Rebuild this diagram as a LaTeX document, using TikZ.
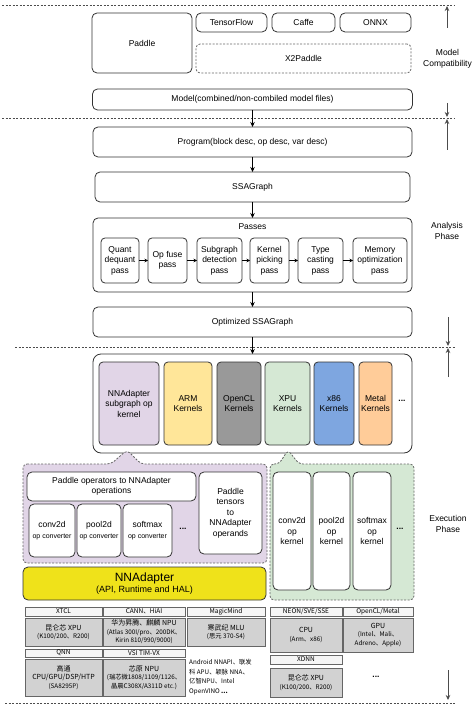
\documentclass[tikz,border=0pt]{standalone}
\usepackage{fontspec}
\setmainfont{Liberation Sans}
\newfontfamily\cjk{Noto Sans CJK SC}
\usetikzlibrary{arrows.meta}
\definecolor{lilac}{HTML}{E1D5E7}
\definecolor{mint}{HTML}{D5E8D4}
\definecolor{butter}{HTML}{FFE699}
\definecolor{slate}{HTML}{999999}
\definecolor{sky}{HTML}{7EA6E0}
\definecolor{peach}{HTML}{FFCC99}
\definecolor{lemon}{HTML}{EFE21A}
\definecolor{hdrgray}{HTML}{F5F5F5}
\definecolor{cellgray}{HTML}{D2D2D2}
\newcommand{\opc}{\fontsize{7}{9}\selectfont op converter}
\newcommand{\mainln}[1]{{\fontsize{7}{9.5}\selectfont #1}}

\begin{document}
\begin{tikzpicture}[x=1pt, y=-1pt, font=\fontsize{8.5}{10.5}\selectfont,
  wh/.style 2 args={minimum width=#1pt, minimum height=#2pt},
  box/.style={draw=black!80, line width=0.8pt, rounded corners=5pt, fill=white,
    align=center, inner sep=1pt, outer sep=0pt},
  pbox/.style={box, rounded corners=4pt},
  region/.style={draw=black!60, line width=0.8pt, dash pattern=on 2pt off 1.5pt, rounded corners=4pt},
  sep/.style={draw=black!70, line width=0.8pt, dash pattern=on 2pt off 1.5pt},
  flow/.style={-{Stealth[length=5pt,width=4.5pt]}, line width=0.8pt},
  tiny/.style={-{Stealth[length=3.5pt,width=3.5pt]}, line width=0.7pt},
  hdr/.style={draw=black!60, line width=0.7pt, fill=hdrgray, inner sep=0.5pt, align=center,
    font=\cjk\fontsize{6.5}{8}\selectfont},
  cell/.style={hdr, fill=cellgray, font=\cjk\fontsize{6.3}{8.5}\selectfont}]
  \useasboundingbox (0,0) rectangle (474,708);

  \draw[sep] (2,5) -- (455,5);
  \draw[sep] (2,118) -- (455,118);
  \draw[sep] (15,347) -- (455,347);
  \draw[sep] (5,703) -- (455,703);

  \node[box, wh={100}{60}] (paddle) at (142,43) {Paddle};
  \node[box, wh={71}{19}] (tf) at (231.5,22.5) {TensorFlow};
  \node[box, wh={63}{19}] (caffe) at (303.5,22.5) {Caffe};
  \node[box, wh={71}{19}] (onnx) at (375.5,22.5) {ONNX};
  \node[box, region, fill=white, wh={215}{29}] (x2p) at (303.5,58.5) {X2Paddle};
  \node[box, wh={320}{21}] (model) at (252.5,99.5) {Model(combined/non-combiled model files)};
  \node[box, wh={319}{30}] (prog) at (252.5,142) {Program(block desc, op desc, var desc)};
  \node[box, wh={315}{30}] (ssa) at (252.5,187) {SSAGraph};
  \node[box, wh={319}{74}] (passes) at (252.5,255) {};
  \node (passlbl) at (252.5,227) {Passes};
  \node[pbox, wh={38}{45}] (quant) at (120,260.5) {Quant\\dequant\\pass};
  \node[pbox, wh={39}{45}] (fuse) at (167.5,260.5) {Op fuse\\pass};
  \node[pbox, wh={45}{45}] (subg) at (219.5,260.5) {Subgraph\\detection\\pass};
  \node[pbox, wh={39}{45}] (pick) at (269.5,260.5) {Kernel\\picking\\pass};
  \node[pbox, wh={45}{45}] (cast) at (320.5,260.5) {Type\\casting\\pass};
  \node[pbox, wh={54}{45}] (mem) at (380,260.5) {Memory\\optimization\\pass};
  \node[box, wh={319}{30}] (opt) at (252.5,322) {Optimized SSAGraph};

  \draw[flow] (model) -- (prog);
  \draw[flow] (prog) -- (ssa);
  \draw[flow] (ssa) -- (passes);
  \draw[flow] (passes) -- (opt);
  \draw[tiny] (quant) -- (fuse);
  \draw[tiny] (fuse) -- (subg);
  \draw[tiny] (subg) -- (pick);
  \draw[tiny] (pick) -- (cast);
  \draw[tiny] (cast) -- (mem);

  \node[box, rounded corners=8pt, wh={319}{99}] (kernels) at (252.5,403.5) {};
  \node[pbox, fill=lilac, wh={60}{83}] (nnsub) at (129,403.5) {NNAdapter\\subgraph op\\kernel};
  \node[pbox, fill=butter, wh={48}{83}] (arm) at (188,403.5) {ARM\\Kernels};
  \node[pbox, fill=slate, wh={44}{83}] (ocl) at (239,403.5) {OpenCL\\Kernels};
  \node[pbox, fill=mint, wh={45}{83}] (xpu) at (287.5,403.5) {XPU\\Kernels};
  \node[pbox, fill=sky, wh={40}{83}] (x86) at (334,403.5) {x86\\Kernels};
  \node[pbox, fill=peach, wh={33}{83}] (metal) at (375.5,403.5) {Metal\\Kernels};
  \node (kdots) at (402,401) {\textbf{...}};
  \draw[flow] (opt) -- (kernels);

  \draw[region, fill=lilac] (23,464) -- (111,464) -- (127,450) -- (141,464) -- (267,464)
    -- (267,563) -- (23,563) -- cycle;
  \draw[region, fill=mint] (270,464) -- (279,464) -- (288,450) -- (299,464) -- (414,464)
    -- (414,600) -- (270,600) -- cycle;

  \node[box, wh={169}{29}] (pops) at (111.5,486.5) {Paddle operators to NNAdapter\\operations};
  \node[box, wh={46}{53}] (cconv) at (52,530.5) {conv2d\\\opc};
  \node[box, wh={44}{53}] (cpool) at (99,530.5) {pool2d\\\opc};
  \node[box, wh={49}{53}] (csoft) at (147.5,530.5) {softmax\\\opc};
  \node (cdots) at (183,529) {\textbf{...}};
  \node[box, wh={63}{82}] (ptens) at (230.5,513) {Paddle\\tensors\\to\\NNAdapter\\operands};

  \node[box, wh={38}{118}] (kconv) at (292,531) {conv2d\\op\\kernel};
  \node[box, wh={37}{118}] (kpool) at (331.5,531) {pool2d\\op\\kernel};
  \node[box, wh={38}{118}] (ksoft) at (372,531) {softmax\\op\\kernel};
  \node (gdots) at (400,529) {\textbf{...}};

  \node[box, fill=lemon, wh={243}{33}] (nna) at (144.5,583.5)
    {{\fontsize{12}{15}\selectfont NNAdapter}\\{\fontsize{9}{11}\selectfont (API, Runtime and HAL)}};

  \node[hdr, wh={77}{9}] (xtcl) at (63.5,611.5) {XTCL};
  \node[cell, wh={77}{28}] (kunlun) at (63.5,632) {\mainln{昆仑芯 XPU}\\(K100/200、R200)};
  \node[hdr, wh={82}{9}] (cann) at (144,611.5) {CANN、HiAI};
  \node[cell, wh={82}{28}] (ascend) at (144,632) {\mainln{华为昇腾、麒麟 NPU}\\(Atlas 300I/pro、200DK、\\Kirin 810/990/9000)};
  \node[hdr, wh={78}{9}] (magic) at (226,611.5) {MagicMind};
  \node[cell, wh={78}{28}] (mlu) at (226,632) {\mainln{寒武纪 MLU}\\(思元 370-S4)};
  \node[hdr, wh={72}{9}] (neon) at (306,611.5) {NEON/SVE/SSE};
  \node[cell, wh={72}{34}] (cpu) at (306,635) {\mainln{CPU}\\(Arm、x86)};
  \node[hdr, wh={70}{9}] (oclm) at (378,611.5) {OpenCL/Metal};
  \node[cell, wh={70}{34}] (gpu) at (378,635) {\mainln{GPU}\\(Intel、Mali、\\Adreno、Apple)};
  \node[hdr, wh={77}{8}] (qnn) at (63.5,653) {QNN};
  \node[cell, wh={77}{37}] (qcom) at (63.5,677.5) {\mainln{高通}\\\mainln{CPU/GPU/DSP/HTP}\\(SA8295P)};
  \node[hdr, wh={82}{8}] (vsi) at (144,653) {VSI TIM-VX};
  \node[cell, wh={82}{37}] (vnpu) at (144,677.5) {\mainln{芯原 NPU}\\(瑞芯微1808/1109/1126、\\晶晨C308X/A311D etc.)};
  \node[hdr, wh={72}{9}] (xdnn) at (306,659.5) {XDNN};
  \node[cell, wh={72}{29}] (kunlun2) at (306,682.5) {\mainln{昆仑芯 XPU}\\(K100/200、R200)};
  \node[anchor=west, align=left, inner sep=0pt, font=\cjk\fontsize{6.3}{9.7}\selectfont] (others) at (189,677)
    {Android NNAPI、联发\\科 APU、颖脉 NNA、\\亿智NPU、Intel\\OpenVINO \textbf{...}};
  \node (tdots) at (376,677) {\textbf{...}};

  \node[align=center] (mcomp) at (447.5,59) {Model\\Compatibility};
  \node[align=center] (aphase) at (447,231) {Analysis\\Phase};
  \node[align=center] (ephase) at (448,524) {Execution\\Phase};
  \coordinate (u1a) at (447,28);  \coordinate (u1b) at (447,6);
  \coordinate (d1a) at (447,103); \coordinate (d1b) at (447,117);
  \coordinate (u2a) at (447,150); \coordinate (u2b) at (447,119);
  \coordinate (d2a) at (448,317); \coordinate (d2b) at (448,346);
  \coordinate (u3a) at (448,377); \coordinate (u3b) at (448,348);
  \coordinate (d3a) at (448,670); \coordinate (d3b) at (448,700);
  \draw[flow, black!70] (u1a) -- (u1b);
  \draw[flow, black!70] (d1a) -- (d1b);
  \draw[flow, black!70] (u2a) -- (u2b);
  \draw[flow, black!70] (d2a) -- (d2b);
  \draw[flow, black!70] (u3a) -- (u3b);
  \draw[flow, black!70] (d3a) -- (d3b);
\end{tikzpicture}
\end{document}
